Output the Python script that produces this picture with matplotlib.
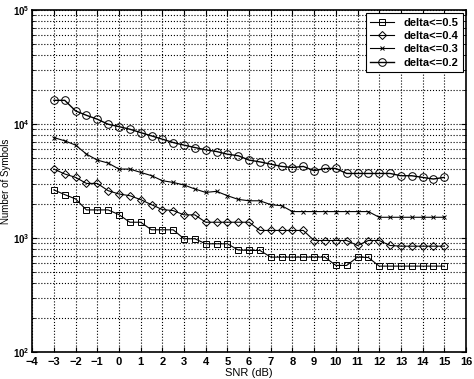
import numpy as np
import matplotlib
matplotlib.use('Agg')
from matplotlib import pyplot as plt

snr = np.arange(-3, 15.01, 0.5)

# delta<=0.2 (circles, top curve)
d02 = [16100, 16100, 13000, 11900, 11000, 9940, 9470, 8990, 8400, 7860,
       7350, 6870, 6520, 6210, 5930, 5730, 5430, 5260, 4820, 4650,
       4440, 4240, 4150, 4240, 3890, 4070, 4070, 3680, 3680, 3680,
       3680, 3680, 3515, 3515, 3400, 3290, 3400, 3180][:37]
# delta<=0.3 (x markers)
d03 = [7590, 7110, 6520, 5440, 4820, 4540, 4020, 4020, 3760, 3520,
       3180, 3070, 2915, 2690, 2510, 2565, 2350, 2180, 2120, 2120,
       1960, 1920, 1705, 1705, 1705, 1705, 1705, 1705, 1705, 1705,
       1520, 1520, 1520, 1520, 1520, 1520, 1520]
# delta<=0.4 (diamonds)
d04 = [4020, 3640, 3400, 3010, 3010, 2600, 2430, 2350, 2170, 1960,
       1775, 1740, 1595, 1595, 1375, 1375, 1375, 1375, 1375, 1165,
       1165, 1165, 1165, 1165, 951, 951, 951, 951, 860, 951,
       951, 860, 848, 848, 848, 848, 848]
# delta<=0.5 (squares, bottom curve)
d05 = [2640, 2400, 2200, 1763, 1763, 1763, 1603, 1375, 1375, 1180,
       1180, 1180, 985, 985, 890, 890, 890, 785, 778, 778,
       680, 680, 680, 680, 680, 680, 575, 575, 680, 675,
       567, 567, 567, 567, 567, 567, 567]

plt.rcParams['font.family'] = ['Liberation Sans', 'DejaVu Sans']
plt.rcParams['font.weight'] = 'bold'

fig = plt.figure(figsize=(4.74, 3.79), dpi=100)
ax = fig.add_axes([0.068, 0.071, 0.915, 0.903])

mk = dict(color='black', lw=0.8, markersize=5, markerfacecolor='none',
          markeredgewidth=0.7)
ax.plot(snr, d05, marker='s', label='delta<=0.5', **mk)
ax.plot(snr, d04, marker='D', label='delta<=0.4', **dict(mk, markersize=4.5))
ax.plot(snr, d03, marker='x', label='delta<=0.3', **dict(mk, markersize=3.5))
ax.plot(snr, d02, marker='o', label='delta<=0.2', **dict(mk, lw=1.0, markersize=5.5))

ax.set_yscale('log')
ax.set_xlim(-4, 16)
ax.set_ylim(1e2, 1e5)
ax.set_xticks(np.arange(-4, 17, 1))
ax.grid(True, which='major', ls=':', color='black', lw=0.8)
ax.grid(True, which='minor', axis='y', ls=':', color='black', lw=0.8)
ax.tick_params(direction='in', top=True, right=True, which='both', labelsize=8)
ax.tick_params(axis='y', labelsize=7, pad=2)
for s in ax.spines.values():
    s.set_linewidth(1.2)

ax.set_xlabel('SNR (dB)', fontsize=8, labelpad=1)
ax.set_ylabel('Number of Symbols', fontsize=7, labelpad=1)

leg = ax.legend(loc='upper right', fontsize=8, frameon=True, fancybox=False,
                edgecolor='black', framealpha=1, handlelength=2.2,
                borderaxespad=0.3, labelspacing=0.3)
leg.get_frame().set_linewidth(0.8)

plt.savefig('out.png', dpi=100)
